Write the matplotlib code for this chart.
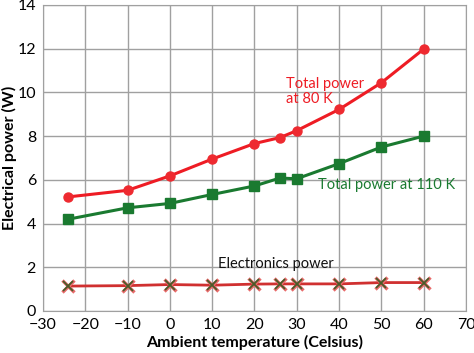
import numpy as np
import matplotlib
matplotlib.use("Agg")
import matplotlib.pyplot as plt

# ambient temperatures (Celsius)
temp = [-24, -10, 0, 10, 20, 26, 30, 40, 50, 60]
# total power at 80 K (W)
p80 = [5.22, 5.52, 6.18, 6.95, 7.66, 7.93, 8.25, 9.22, 10.44, 11.98]
# total power at 110 K (W)
p110 = [4.20, 4.72, 4.92, 5.33, 5.72, 6.08, 6.05, 6.74, 7.50, 8.00]
# electronics power (W)
pelec = [1.14, 1.16, 1.21, 1.18, 1.23, 1.24, 1.24, 1.24, 1.30, 1.30]

xticks = np.arange(-30, 71, 10)
yticks = np.arange(0, 15, 2)

plt.rcParams['font.family'] = ['Lato', 'DejaVu Sans']

fig = plt.figure(figsize=(4.74, 3.53), dpi=100)
ax = fig.add_axes([0.0907, 0.119, 0.8923, 0.867])

ax.plot(temp, p80, c="#ee1c24", lw=2.2, marker="o", ms=6.5, mfc="#ee2a30", mec="#ee2a30")
ax.plot(temp, p110, c="#1a7a30", lw=2.2, marker="s", ms=6.5, mfc="#1a7a30", mec="#1a7a30")
ax.plot(temp, pelec, c="#d03030", lw=2.0)
ax.plot(temp, pelec, ls="none", marker="x", ms=9, mew=2.4, mec="#e86a6a")
ax.plot(temp, pelec, ls="none", marker="x", ms=7, mew=1.3, mec="#4a5a28")

ax.text(27.5, 10.7, "Total power\nat 80 K", color="#ee1c24", fontsize=10.5, va="top", linespacing=1.1)
ax.text(35.0, 5.75, "Total power at 110 K", color="#1a7a30", fontsize=10.5, va="center")
ax.text(11.4, 2.14, "Electronics power", color="#111111", fontsize=10.5, va="center")

ax.set_xlim(-30, 70)
ax.set_ylim(0, 14)
ax.set_xticks(xticks)
ax.set_yticks(yticks)
ax.set_xticklabels([str(t).replace("-", "\u2212") for t in xticks])
ax.tick_params(length=0, labelsize=11.5, pad=5)
ax.grid(True, color="#a0a0a0", lw=1)
ax.set_axisbelow(True)
for s in ax.spines.values():
    s.set_color("#a0a0a0")

ax.set_xlabel("Ambient temperature (Celsius)", fontsize=11.5, fontweight="bold", labelpad=2)
ax.set_ylabel("Electrical power (W)", fontsize=11.5, fontweight="bold")
ax.yaxis.set_label_coords(-0.062, 0.5)

fig.savefig("out.png", dpi=100)
